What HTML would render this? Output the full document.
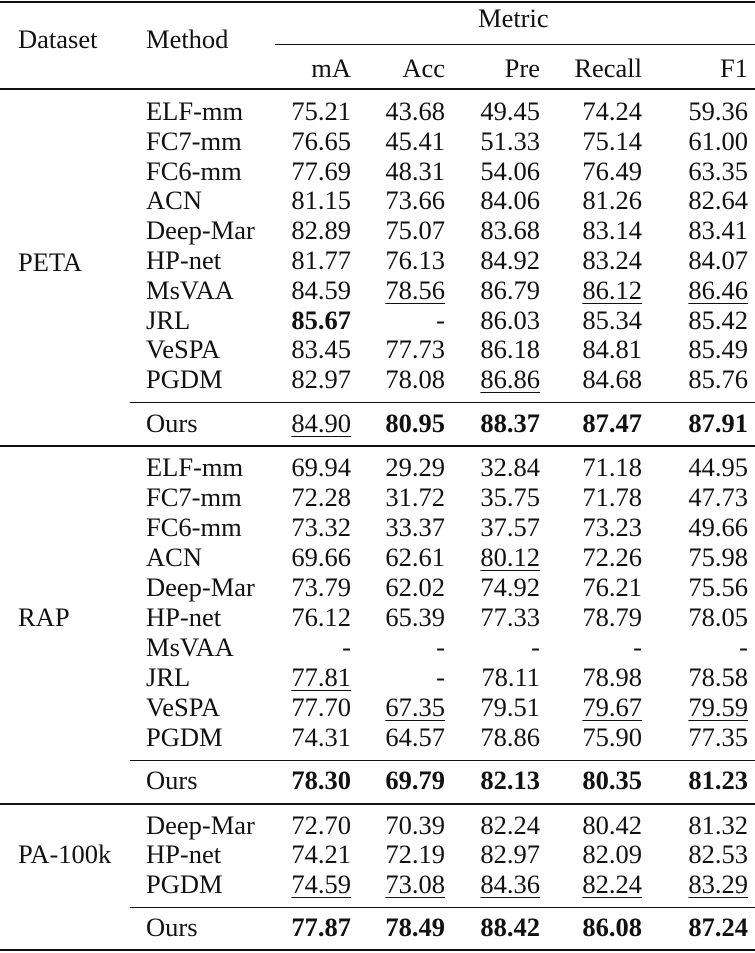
<!DOCTYPE html>
<html><head><meta charset="utf-8"><style>
body{margin:0;background:#fff;width:755px;height:953px;position:relative;overflow:hidden;font-family:"Liberation Serif",serif;color:#111}
.t{position:absolute;font-size:26.5px;line-height:30px;height:30px;white-space:nowrap}
.r{text-align:right;width:120px}
.u{text-decoration:underline;text-decoration-thickness:1px;text-underline-offset:4px}
.b{font-weight:bold}
.rule{position:absolute;background:#111}
</style></head><body>
<div class="rule" style="left:0;top:1px;width:755px;height:2px"></div>
<div class="rule" style="left:275px;top:44px;width:480px;height:1px"></div>
<div class="rule" style="left:0;top:88px;width:755px;height:1.5px"></div>
<div class="rule" style="left:130px;top:402px;width:625px;height:1px"></div>
<div class="rule" style="left:0;top:445px;width:755px;height:1.5px"></div>
<div class="rule" style="left:130px;top:760px;width:625px;height:1px"></div>
<div class="rule" style="left:0;top:803px;width:755px;height:1.5px"></div>
<div class="rule" style="left:130px;top:907px;width:625px;height:1px"></div>
<div class="rule" style="left:0;top:949px;width:755px;height:2px"></div>
<div class="t" style="left:18px;top:24px">Dataset</div>
<div class="t" style="left:146px;top:24px">Method</div>
<div class="t" style="left:478px;top:3px">Metric</div>
<script>
const cols=["mA","Acc","Pre","Recall","F1"];
const colRight=[351,445,540,642,748];
const groups=[
 {name:"PETA",center:262,rows:[
  ["ELF-mm",111,["75.21","43.68","49.45","74.24","59.36"]],
  ["FC7-mm",141,["76.65","45.41","51.33","75.14","61.00"]],
  ["FC6-mm",171,["77.69","48.31","54.06","76.49","63.35"]],
  ["ACN",200,["81.15","73.66","84.06","81.26","82.64"]],
  ["Deep-Mar",230,["82.89","75.07","83.68","83.14","83.41"]],
  ["HP-net",260,["81.77","76.13","84.92","83.24","84.07"]],
  ["MsVAA",290,["84.59","_78.56","86.79","_86.12","_86.46"]],
  ["JRL",320,["*85.67","-","86.03","85.34","85.42"]],
  ["VeSPA",349,["83.45","77.73","86.18","84.81","85.49"]],
  ["PGDM",379,["82.97","78.08","_86.86","84.68","85.76"]],
  ["Ours",423,["_84.90","*80.95","*88.37","*87.47","*87.91"]]]},
 {name:"RAP",center:617,rows:[
  ["ELF-mm",467,["69.94","29.29","32.84","71.18","44.95"]],
  ["FC7-mm",497,["72.28","31.72","35.75","71.78","47.73"]],
  ["FC6-mm",527,["73.32","33.37","37.57","73.23","49.66"]],
  ["ACN",557,["69.66","62.61","_80.12","72.26","75.98"]],
  ["Deep-Mar",587,["73.79","62.02","74.92","76.21","75.56"]],
  ["HP-net",617,["76.12","65.39","77.33","78.79","78.05"]],
  ["MsVAA",647,["-","-","-","-","-"]],
  ["JRL",677,["_77.81","-","78.11","78.98","78.58"]],
  ["VeSPA",707,["77.70","_67.35","79.51","_79.67","_79.59"]],
  ["PGDM",737,["74.31","64.57","78.86","75.90","77.35"]],
  ["Ours",780,["*78.30","*69.79","*82.13","*80.35","*81.23"]]]},
 {name:"PA-100k",center:854,rows:[
  ["Deep-Mar",825,["72.70","70.39","82.24","80.42","81.32"]],
  ["HP-net",854,["74.21","72.19","82.97","82.09","82.53"]],
  ["PGDM",884,["_74.59","_73.08","_84.36","_82.24","_83.29"]],
  ["Ours",927,["*77.87","*78.49","*88.42","*86.08","*87.24"]]]}
];
function mk(txt,cls,left,cy,name){
  const d=document.createElement('div');
  d.className='t '+cls;d.textContent=txt;
  d.style.left=left+'px';d.style.top=(cy-15)+'px';
  
  
  document.body.appendChild(d);return d;
}
cols.forEach((c,i)=>{mk(c,'r',colRight[i]-120,68,'col-header-'+c.toLowerCase());});
groups.forEach(g=>{
  mk(g.name,'',18,g.center,'dataset-'+g.name.toLowerCase());
  g.rows.forEach(r=>{
    mk(r[0],'',146,r[1],'method-'+r[0].toLowerCase());
    r[2].forEach((v,i)=>{
      let cls='r';
      if(v[0]==='_'){cls+=' u';v=v.slice(1);}
      else if(v[0]==='*'){cls+=' b';v=v.slice(1);}
      mk(v,cls,colRight[i]-120,r[1],'cell-'+g.name.toLowerCase()+'-'+r[0].toLowerCase()+'-'+cols[i].toLowerCase());
    });
  });
});
</script>
</body></html>
